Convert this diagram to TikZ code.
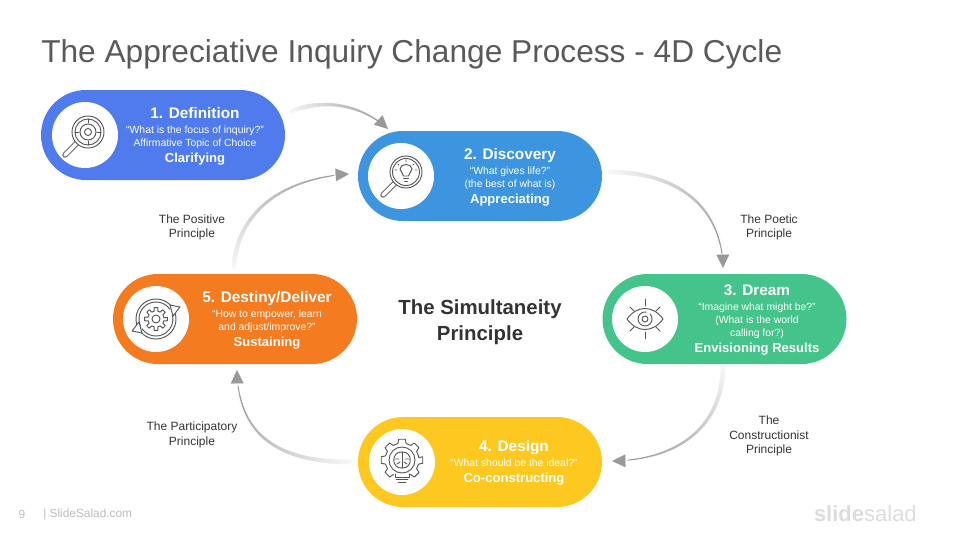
\documentclass[tikz,border=0pt]{standalone}
\usepackage{fontspec}
\setmainfont{Liberation Sans}
\usetikzlibrary{arrows.meta,calc}

\definecolor{definitionblue}{HTML}{4F7BEC}
\definecolor{discoveryblue}{HTML}{3D95E0}
\definecolor{dreamgreen}{HTML}{44C38B}
\definecolor{designyellow}{HTML}{FDC920}
\definecolor{destinyorange}{HTML}{F47B20}
\definecolor{flowgray}{HTML}{999999}
\definecolor{icongray}{HTML}{555555}
\definecolor{titlegray}{HTML}{595959}
\definecolor{labeldark}{HTML}{333333}
\definecolor{footgray}{HTML}{BBBBBB}
\definecolor{logogray}{HTML}{DCDCDC}

\tikzset{
  pill/.style={minimum width=183pt,minimum height=67.5pt,inner sep=0pt,rounded corners=33.7pt},
  disc/.style={circle,fill=white,minimum size=49.5pt,inner sep=0pt},
  pilltext/.style={text=white,align=center,inner sep=0pt,font=\fontsize{7.8}{9.75}\selectfont},
  principle/.style={text=labeldark,align=center,inner sep=0pt,font=\fontsize{9}{11}\selectfont},
  flow/.style={color=flowgray!15!white,line width=.2pt,-{Triangle[length=10pt,width=9.5pt,color=flowgray]}},
  iconline/.style={draw=icongray,line width=.7pt,line cap=round,line join=round},
  iconhandle/.style={draw=icongray,line width=4pt,line cap=round},
  iconhandlein/.style={draw=white,line width=2.8pt,line cap=round}
}

\newcommand{\stagehead}[1]{{\fontsize{11.5}{12}\bfseries #1}\\[1.6pt]}
\newcommand{\stagefoot}[1]{\\[1.9pt]{\fontsize{9.8}{12}\bfseries #1}}

\newcommand{\fadestroke}[4]{
  \foreach \i in {0,...,45}{
    \pgfmathsetmacro\ta{\i/50}
    \pgfmathsetmacro\tb{(\i+1)/50}
    \pgfmathsetmacro\fadepct{8+92*\i/45}
    \pgfmathsetmacro\fadewid{3.6-2.9*\i/45}
    \path (#1) .. controls (#2) and (#3) .. (#4) coordinate[pos=\ta] (fa) coordinate[pos=\tb] (fb);
    \draw[color=flowgray!\fadepct!white,line width=\fadewid pt,line cap=round] (fa) -- (fb);
  }
}

\begin{document}
\begin{tikzpicture}[x=.75pt,y=-.75pt]

  \useasboundingbox (0,0) rectangle (960,540);

  \node[text=titlegray,anchor=west,inner sep=0pt,font=\fontsize{23.75}{26}\selectfont] (title) at (41,54) {The Appreciative Inquiry Change Process - 4D Cycle};

  % stages
  \node[pill,fill=definitionblue] (definition) at (163,135) {};
  \node[pill,fill=discoveryblue] (discovery) at (480,176) {};
  \node[pill,fill=dreamgreen] (dream) at (724.5,319) {};
  \node[pill,fill=designyellow] (design) at (480,462) {};
  \node[pill,fill=destinyorange] (destiny) at (235,319) {};

  \node[disc] (definitionicon) at (85,135) {};
  \node[disc] (discoveryicon) at (401,176) {};
  \node[disc] (dreamicon) at (645,319) {};
  \node[disc] (designicon) at (402,462) {};
  \node[disc] (destinyicon) at (156,319) {};

  \node[pilltext] (definitiontext) at (195,136) {\stagehead{1. Definition}“What is the focus of inquiry?”\\Affirmative Topic of Choice\stagefoot{Clarifying}};
  \node[pilltext] (discoverytext) at (510,177) {\stagehead{2. Discovery}“What gives life?”\\(the best of what is)\stagefoot{Appreciating}};
  \node[pilltext] (dreamtext) at (757,320) {\stagehead{3. Dream}“Imagine what might be?”\\(What is the world\\calling for?)\stagefoot{Envisioning Results}};
  \node[pilltext] (designtext) at (514,463) {\stagehead{4. Design}“What should be the ideal?”\stagefoot{Co-constructing}};
  \node[pilltext] (destinytext) at (267,320) {\stagehead{5. Destiny/Deliver}“How to empower, learn\\and adjust/improve?”\stagefoot{Sustaining}};

  % connectors
  \coordinate (flowa) at (292,111);
  \coordinate (flowb) at (388,129);
  \coordinate (flowc) at (234,266);
  \coordinate (flowd) at (349,174);
  \coordinate (flowe) at (610,172);
  \coordinate (flowf) at (723,268);
  \coordinate (flowg) at (723,368);
  \coordinate (flowh) at (612,461);
  \coordinate (flowi) at (350,462);
  \coordinate (flowj) at (237,370);

  \draw[flow] (flowa) .. controls (325,98) and (362,105) .. (flowb);
  \draw[flow] (flowc) .. controls (238,210) and (285,178) .. (flowd);
  \draw[flow] (flowe) .. controls (675,172) and (722,205) .. (flowf);
  \draw[flow] (flowg) .. controls (722,425) and (680,460) .. (flowh);
  \draw[flow] (flowi) .. controls (285,462) and (238,440) .. (flowj);

  \fadestroke{flowa}{325,98}{362,105}{flowb}
  \fadestroke{flowc}{238,210}{285,178}{flowd}
  \fadestroke{flowe}{675,172}{722,205}{flowf}
  \fadestroke{flowg}{722,425}{680,460}{flowh}
  \fadestroke{flowi}{285,462}{238,440}{flowj}

  % labels
  \node[principle] (positive) at (192,227.5) {The Positive\\Principle};
  \node[principle] (poetic) at (769,227.5) {The Poetic\\Principle};
  \node[principle] (constructionist) at (769,436) {The\\Constructionist\\Principle};
  \node[principle] (participatory) at (192,435) {The Participatory\\Principle};
  \node[text=labeldark,align=center,inner sep=0pt,font=\fontsize{15.3}{19.5}\bfseries] (simultaneity) at (480,322) {The Simultaneity\\Principle};

  % footer
  \node[text=footgray,inner sep=0pt,font=\fontsize{8.9}{10}\selectfont] (pagenum) at (22,514) {9};
  \node[text=footgray,anchor=west,inner sep=0pt,font=\fontsize{8.9}{10}\selectfont] (footer) at (43,514) {| SlideSalad.com};
  \node[text=logogray,anchor=east,inner sep=0pt,font=\fontsize{16.5}{20}\selectfont] (logo) at (917,514) {\textbf{slide}salad};

  % magnifier with target
  \begin{scope}[shift={(88,132)}]
    \draw[iconhandle] (-11,11) -- (-23,23);
    \draw[iconhandlein] (-11,11) -- (-23,23);
    \draw[iconline,fill=white] (0,0) circle (16);
    \draw[iconline] (0,0) circle (13) (0,0) circle (8) (0,0) circle (3.5);
    \draw[iconline] (0,-13) -- (0,-9) (0,9) -- (0,13) (-13,0) -- (-9,0) (9,0) -- (13,0);
  \end{scope}

  % magnifier with bulb
  \begin{scope}[shift={(406,172)}]
    \draw[iconhandle] (-11,11) -- (-23,23);
    \draw[iconhandlein] (-11,11) -- (-23,23);
    \draw[iconline,fill=white] (0,0) circle (16);
    \draw[iconline] (0,0) circle (13.5);
    \draw[iconline] (-2.5,4) .. controls (-2.5,1) and (-6,0) .. (-6,-3) .. controls (-6,-9) and (6,-9) .. (6,-3) .. controls (6,0) and (2.5,1) .. (2.5,4) -- cycle;
    \draw[iconline] (-2.5,6.5) -- (2.5,6.5) (-1.5,9) -- (1.5,9);
    \draw[iconline] (0,-12) -- (0,-10) (-8,-8) -- (-7,-7) (8,-8) -- (7,-7) (-11,-2) -- (-9,-2) (11,-2) -- (9,-2);
  \end{scope}

  % eye
  \begin{scope}[shift={(645,319)}]
    \draw[iconline] (-18,0) .. controls (-8,-14) and (8,-14) .. (18,0) .. controls (8,14) and (-8,14) .. (-18,0) -- cycle;
    \draw[iconline] (5,-5) arc (-45:280:7);
    \draw[iconline] (0,0) circle (3);
    \draw[iconline] (0,-20) -- (0,-13) (0,13) -- (0,20);
    \draw[iconline] (-15,-12) -- (-11,-8) (15,-12) -- (11,-8) (-15,12) -- (-11,8) (15,12) -- (11,8);
  \end{scope}

  % gear with brain and bulb base
  \begin{scope}[shift={(402,460)}]
    \draw[iconline] (-8:17) \foreach \a in {0,45,...,315}{ -- ({\a-9}:21) -- ({\a+9}:21) -- ({\a+14}:17) -- ({\a+31}:17)} -- cycle;
    \fill[white] (-8,13) rectangle (8,24);
    \draw[iconline,fill=white] (0,0) circle (13);
    \draw[iconline] (-7,14) -- (-7,17) -- (7,17) -- (7,14);
    \draw[iconline] (-6,19.5) -- (6,19.5) (-4,22) -- (4,22);
    \draw[iconline] (0,-8) -- (0,8);
    \draw[iconline] (0,-8) .. controls (-11,-9) and (-11,9) .. (0,8);
    \draw[iconline] (0,-8) .. controls (11,-9) and (11,9) .. (0,8);
    \draw[iconline] (-7,-1) -- (-3,-1) (7,-1) -- (3,-1) (-5,4) -- (-2,2) (5,4) -- (2,2);
  \end{scope}

  % gear with circular arrows
  \begin{scope}[shift={(156,319)}]
    \draw[iconline] (-8:8) \foreach \a in {0,45,...,315}{ -- ({\a-9}:11.5) -- ({\a+9}:11.5) -- ({\a+14}:8) -- ({\a+31}:8)} -- cycle;
    \draw[iconline] (0,0) circle (4);
    \draw[iconline] (-35:20) arc (-35:-205:20);
    \draw[iconline] (-35:17) arc (-35:-205:17);
    \draw[iconline] (145:20) arc (145:-15:20) ;
    \draw[iconline] (145:17) arc (145:-15:17);
    \draw[iconline,fill=white] (14,-14) -- (24,-12) -- (17,-3) -- cycle;
    \draw[iconline,fill=white] (-14,14) -- (-24,12) -- (-17,3) -- cycle;
  \end{scope}

\end{tikzpicture}
\end{document}
